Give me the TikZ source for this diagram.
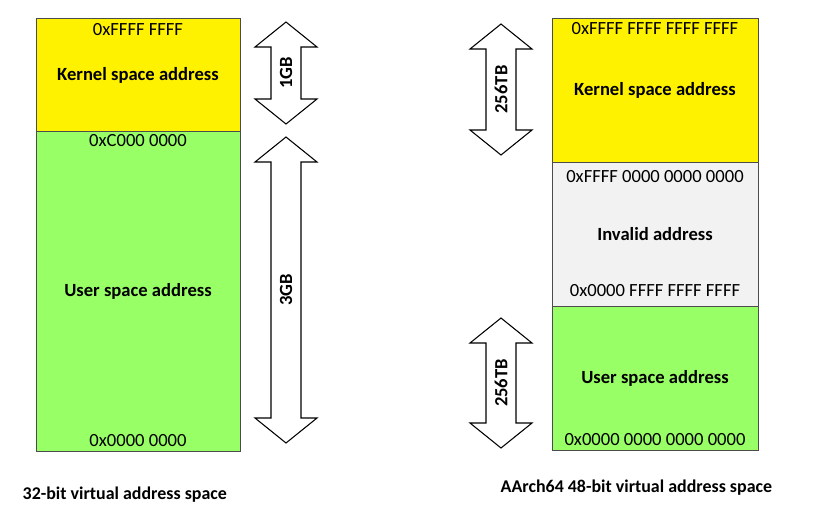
\documentclass[tikz,border=0pt]{standalone}
\usepackage{fontspec}
\setmainfont{Carlito}
\usetikzlibrary{positioning}

\tikzset{
  region/.style={draw=black!70, line width=0.6pt},
  addr/.style={font=\fontsize{14}{16}\selectfont},
  title/.style={font=\bfseries\fontsize{14}{16}\selectfont},
  caption/.style={font=\bfseries\fontsize{13.5}{16}\selectfont, anchor=west},
  sizelbl/.style={font=\bfseries\fontsize{14}{16}\selectfont, rotate=90}
}
% block double arrow: centre x, top y, bottom y, name, label
\newcommand{\blockarrow}[5]{%
  \draw [line width=0.8pt]
    (#1,#2) -- (#1+31,#2+25) -- (#1+15,#2+25) -- (#1+15,#3-25) -- (#1+31,#3-25)
    -- (#1,#3) -- (#1-31,#3-25) -- (#1-15,#3-25) -- (#1-15,#2+25)
    -- (#1-31,#2+25) -- cycle;
  \node[sizelbl] (#4) at (#1,{(#2+#3)/2}) {#5};
}

\begin{document}
\begin{tikzpicture}[x=0.02646cm, y=-0.02646cm]
	\useasboundingbox (0,0) rectangle (821,515);
	% 32-bit layout
	\draw [region, fill=yellow] (36,18) rectangle (240,131);
	\draw [region, fill={rgb,255:red,153;green,255;blue,102}] (36,131) rectangle (240,451);
	\node[addr] (ktop) at (138,30) {0xFFFF FFFF};
	\node[title] (kern) at (138,75) {Kernel space address};
	\node[addr] (split) at (138,141) {0xC000 0000};
	\node[title] (user) at (138,291) {User space address};
	\node[addr] (ubot) at (138,441) {0x0000 0000};
	\blockarrow{286}{22}{124}{onegb}{1GB}
	\blockarrow{286}{137}{443}{threegb}{3GB}
	% 64-bit layout
	\draw [region, fill=yellow] (552,18) rectangle (758,162);
	\draw [region, fill=black!5] (552,162) rectangle (758,306);
	\draw [region, fill={rgb,255:red,153;green,255;blue,102}] (552,306) rectangle (758,450);
	\node[addr] (ktop64) at (655,29) {0xFFFF FFFF FFFF FFFF};
	\node[title] (kern64) at (655,90) {Kernel space address};
	\node[addr] (kbot64) at (655,177) {0xFFFF 0000 0000 0000};
	\node[title] (inval) at (655,234) {Invalid address};
	\node[addr] (utop64) at (655,291) {0x0000 FFFF FFFF FFFF};
	\node[title] (user64) at (655,378) {User space address};
	\node[addr] (ubot64) at (655,440) {0x0000 0000 0000 0000};
	\blockarrow{501}{24}{155}{ktb}{256TB}
	\blockarrow{501}{318}{448}{utb}{256TB}
	% captions
	\node[caption] (cap32) at (18,495) {32-bit virtual address space};
	\node[caption] (cap64) at (496,488) {AArch64 48-bit virtual address space};
\end{tikzpicture}
\end{document}
